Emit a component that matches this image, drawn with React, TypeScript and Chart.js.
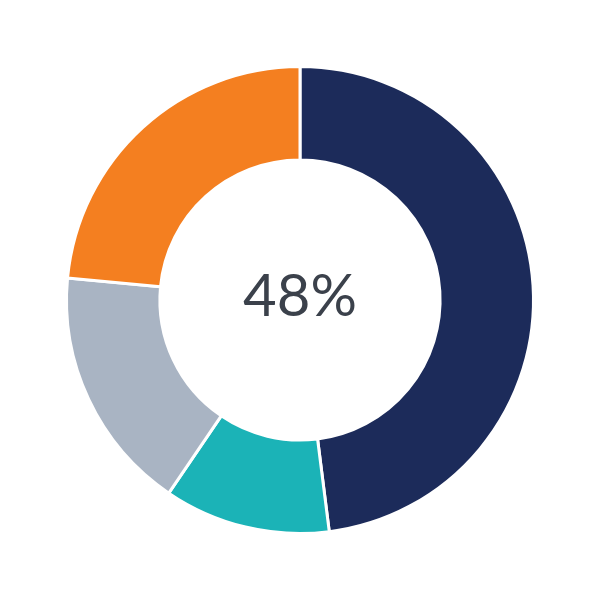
import { useEffect, useRef } from 'react';
import Chart from 'chart.js/auto';

const labels = ['A', 'B', 'C', 'D'];
const values = [48, 11.5, 17, 23.5];
const colors = ['#1c2b5a', '#1bb3b7', '#a9b4c3', '#f47f20'];
const centerLabel = '48%';

export default function App() {
  const chartRef = useRef<HTMLCanvasElement>(null);

  useEffect(() => {
    document.body.style.margin = '0';
    if (!chartRef.current) return;

    // Draws the percentage in the hole
    const centerText = {
      id: 'centerText',
      afterDraw(chart: any) {
        const { ctx, chartArea } = chart;
        const x = (chartArea.left + chartArea.right) / 2;
        const y = (chartArea.top + chartArea.bottom) / 2 - 3;
        ctx.save();
        ctx.font = '400 58px Lato, sans-serif';
        ctx.fillStyle = '#3b414b';
        ctx.textAlign = 'center';
        ctx.textBaseline = 'middle';
        ctx.fillText(centerLabel, x, y);
        ctx.restore();
      },
    };

    const chart = new Chart(chartRef.current, {
      type: 'doughnut',
      data: {
        labels,
        datasets: [
          {
            data: values,
            backgroundColor: colors,
            borderColor: '#ffffff',
            borderWidth: 3,
          },
        ],
      },
      options: {
        animation: false,
        responsive: false,
        cutout: '60%',
        layout: { padding: 65 },
        plugins: {
          legend: { display: false },
          tooltip: { enabled: false },
        },
      },
      plugins: [centerText],
    });

    return () => chart.destroy();
  }, []);

  return (
    <div style={{ width: 600, height: 600, background: '#fff' }}>
      <canvas ref={chartRef} width={600} height={600} />
    </div>
  );
}
